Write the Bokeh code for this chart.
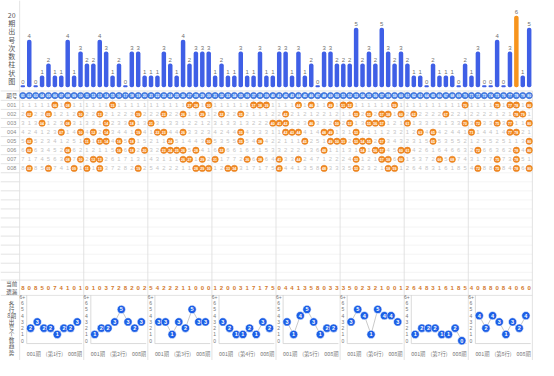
import numpy as np
from bokeh.plotting import figure
from bokeh.models import Range1d, ColumnDataSource
from bokeh.core.properties import value
from bokeh.embed import file_html
from bokeh.resources import INLINE

# ---------------- data ----------------
numbers = list(range(1, 81))
bar_counts = [
    0, 4, 0, 1, 2, 1, 1, 4, 1, 3,
    2, 2, 4, 3, 1, 2, 0, 3, 3, 1,
    1, 1, 3, 2, 1, 4, 2, 3, 3, 3,
    1, 2, 1, 1, 3, 1, 1, 3, 1, 1,
    3, 3, 1, 3, 1, 2, 0, 3, 3, 2,
    2, 2, 5, 2, 3, 2, 5, 3, 2, 3,
    2, 1, 1, 0, 2, 1, 1, 1, 0, 2,
    1, 3, 0, 0, 4, 0, 3, 6, 1, 5,
]
period_codes = ["001", "002", "003", "004", "005", "006", "007", "008"]
draw_001 = [6, 8, 15, 27, 28, 30, 37, 38, 39, 44, 46, 49, 51, 52, 59, 70, 75, 77, 78, 80]
draw_002 = [2, 5, 10, 13, 19, 23, 26, 29, 32, 35, 42, 53, 55, 57, 58, 60, 62, 67, 78, 79]
draw_003 = [4, 8, 14, 18, 21, 40, 41, 42, 46, 50, 52, 55, 56, 57, 61, 70, 72, 75, 77, 80]
draw_004 = [7, 10, 12, 14, 19, 22, 23, 26, 35, 42, 43, 44, 48, 49, 53, 63, 65, 71, 77, 78]
draw_005 = [2, 11, 13, 14, 16, 18, 24, 30, 35, 38, 45, 49, 50, 51, 53, 54, 55, 57, 65, 80]
draw_006 = [2, 8, 16, 18, 20, 23, 24, 25, 26, 28, 32, 48, 54, 56, 57, 60, 61, 72, 78, 80]
draw_007 = [8, 10, 12, 13, 26, 27, 29, 31, 36, 38, 41, 44, 53, 57, 58, 60, 66, 68, 75, 78]
draw_008 = [2, 5, 9, 11, 13, 19, 28, 29, 30, 33, 34, 41, 48, 53, 58, 59, 72, 75, 78, 80]
draws = [draw_001, draw_002, draw_003, draw_004, draw_005, draw_006, draw_007, draw_008]

trend_row1 = [2, 3, 2, 2, 1, 2, 2, 3]
trend_row2 = [1, 2, 2, 3, 5, 3, 2, 3]
trend_row3 = [3, 3, 1, 3, 2, 5, 3, 3]
trend_row4 = [3, 2, 1, 1, 2, 1, 3, 2]
trend_row5 = [3, 1, 4, 5, 3, 1, 2, 2]
trend_row6 = [3, 5, 4, 1, 5, 4, 4, 3]
trend_row7 = [1, 2, 2, 2, 1, 1, 2, 0]
trend_row8 = [4, 2, 4, 3, 1, 3, 2, 4]
trends = [trend_row1, trend_row2, trend_row3, trend_row4,
          trend_row5, trend_row6, trend_row7, trend_row8]
trend_periods = [1, 2, 3, 4, 5, 6, 7, 8]
trend_tick_values = [0, 1, 2, 3, 4, 5, 6, 7]
trend_tick_labels = ["0", "1", "2", "3", "4", "5", "6", "6+"]

title_chars = ["20", "期", "出", "号", "次", "数", "柱", "状", "图"]
trend_chars = ["各", "行", "8期", "出", "号", "个", "数", "趋", "势"]

# ---------------- layout constants (reference pixel space) ----------------
REF_W, REF_H = 554, 376
COL_X0, COL_W = 16.4, 6.6            # column n centre = COL_X0 + COL_W * n
def u(px):
    return (px - COL_X0) / COL_W

BAR_BASE, BAR_UNIT = 90.7, 12.45
HDR_Y = 99.3
ROW_Y0, ROW_H, N_ROWS = 109.2, 9.45, 19
GRID_TOP = 104.3
OMIT_Y = 300.0
CNT_BASE, CNT_UNIT = 355.3, 6.53
TR_X0, TR_DX = 31.0, 6.86

NUM_FONT = value("Liberation Sans")
CJK_FONT = value("Noto Sans CJK SC")

BLUE = "#3f5fe6"
ORANGE = "#f7941d"
LINE = "#dcdcdc"

p = figure(width=538, height=360, x_range=Range1d(u(0), u(REF_W)),
           y_range=Range1d(REF_H, 0), output_backend="svg",
           toolbar_location=None, min_border=0,
           x_axis_type=None, y_axis_type=None)
p.outline_line_color = None
p.background_fill_color = "white"
p.border_fill_color = "white"

p.extra_y_ranges = {
    "bar": Range1d((BAR_BASE - REF_H) / BAR_UNIT, BAR_BASE / BAR_UNIT),
    "cnt": Range1d((CNT_BASE - REF_H) / CNT_UNIT, CNT_BASE / CNT_UNIT),
}
p.extra_x_ranges = {
    f"g{g}": Range1d(1 + (0 - TR_X0 - 66 * g) / TR_DX, 1 + (REF_W - TR_X0 - 66 * g) / TR_DX)
    for g in range(8)
}

LAB_X = u(11.5)
SEP_R = 80.5

# ---------------- lines ----------------
hx0, hx1, hy = [], [], []
hcol = []
for yy in [94.5, GRID_TOP]:
    hx0.append(u(0)); hx1.append(SEP_R); hy.append(yy); hcol.append(LINE)
for k in range(1, N_ROWS + 1):
    yy = GRID_TOP + ROW_H * k
    hx0.append(u(0)); hx1.append(0.5); hy.append(yy); hcol.append(LINE)
    hx0.append(0.5); hx1.append(SEP_R); hy.append(yy); hcol.append("#f1f1f1")
for yy in [292.0, 308.0]:
    hx0.append(u(0)); hx1.append(SEP_R); hy.append(yy); hcol.append(LINE)
p.segment(x0=hx0, x1=hx1, y0=hy, y1=hy, line_color=hcol, line_width=0.8)

vx = [0.5] + [10 * g + 0.5 for g in range(1, 9)]
vy0 = [0.0] + [94.5] * 8
p.segment(x0=vx, x1=vx, y0=vy0, y1=[REF_H] * len(vx), line_color=LINE, line_width=0.8)

# ---------------- bars ----------------
vals = np.array(bar_counts)
mx = vals.max()
bar_src = ColumnDataSource(dict(
    x=numbers,
    top=np.maximum(vals, 0.17),
    c=[ORANGE if v == mx else BLUE for v in vals],
    lab=[str(v) for v in vals],
))
p.vbar(x="x", top="top", bottom=0, width=0.7, fill_color="c", line_color=None,
       y_range_name="bar", source=bar_src, border_radius=2)
p.text(x="x", y="top", text="lab", source=bar_src, y_range_name="bar",
       text_align="center", text_baseline="bottom", y_offset=-1.5,
       text_font=NUM_FONT, text_font_size=value("6px"), text_color="#707070")

# left title (vertical)
p.text(x=[LAB_X] * len(title_chars), y=[15 + 8.6 * i for i in range(len(title_chars))],
       text=title_chars, text_align="center", text_baseline="middle",
       text_font=CJK_FONT, text_font_size=value("7px"), text_color="#555555")

# ---------------- header row ----------------
p.text(x=[LAB_X], y=[HDR_Y], text=["期号"], text_align="center", text_baseline="middle",
       text_font=CJK_FONT, text_font_size=value("5.5px"), text_color="#555555")
p.scatter(x=numbers, y=[HDR_Y] * 80, size=6.3, fill_color="#4a86ea",
          line_color="#2458c8", line_width=0.6)
p.text(x=numbers, y=[HDR_Y] * 80, text=[f"{n:02d}" for n in numbers],
       text_align="center", text_baseline="middle", text_font=NUM_FONT,
       text_font_size=value("3.4px"), text_color="white", text_font_style="bold")

# ---------------- omission grid ----------------
last_hit = {n: 0 for n in numbers}
hit_x, hit_y, hit_t = [], [], []
mis_x, mis_y, mis_t = [], [], []
for r, draw in enumerate(draws, start=1):
    yy = ROW_Y0 + ROW_H * (r - 1)
    s = set(draw)
    for n in numbers:
        if n in s:
            hit_x.append(n); hit_y.append(yy); hit_t.append(f"{n:02d}")
            last_hit[n] = r
        else:
            mis_x.append(n); mis_y.append(yy); mis_t.append(str(r - last_hit[n]))
current_omission = [len(draws) - last_hit[n] for n in numbers]

p.text(x=[LAB_X] * len(period_codes), y=[ROW_Y0 + ROW_H * i for i in range(len(period_codes))],
       text=period_codes, text_align="center", text_baseline="middle",
       text_font=NUM_FONT, text_font_size=value("5.5px"), text_color="#888888")
p.text(x=mis_x, y=mis_y, text=mis_t, text_align="center", text_baseline="middle",
       text_font=NUM_FONT, text_font_size=value("5.8px"), text_color="#c4c4c4")
p.scatter(x=hit_x, y=hit_y, size=6.4, fill_color="#f28a22", line_color="#e07412",
          line_width=0.5)
p.text(x=hit_x, y=hit_y, text=hit_t, text_align="center", text_baseline="middle",
       text_font=NUM_FONT, text_font_size=value("3.6px"), text_color="white",
       text_font_style="bold")

# ---------------- current omission ----------------
p.text(x=[LAB_X, LAB_X], y=[OMIT_Y - 4, OMIT_Y + 4], text=["当前", "遗漏"],
       text_align="center", text_baseline="middle", text_font=CJK_FONT,
       text_font_size=value("5.5px"), text_color="#555555")
p.text(x=numbers, y=[OMIT_Y] * 80, text=[str(v) for v in current_omission],
       text_align="center", text_baseline="middle", text_font=NUM_FONT,
       text_font_size=value("6px"), text_color="#d2782a", text_font_style="bold")

# ---------------- row trend mini charts ----------------
p.text(x=[LAB_X] * len(trend_chars), y=[316.5 + 6.4 * i for i in range(len(trend_chars))],
       text=trend_chars, text_align="center", text_baseline="middle",
       text_font=CJK_FONT, text_font_size=value("5.6px"), text_color="#555555")

AX_P = 1 + (27 - TR_X0) / TR_DX
END_P = 1 + (84 - TR_X0) / TR_DX
TICK_P = 1 + (22.5 - TR_X0) / TR_DX
XLAB_V = (CNT_BASE - 369) / CNT_UNIT
BASE_V = (CNT_BASE - 358.3) / CNT_UNIT
for g in range(8):
    rn = f"g{g}"
    p.segment(x0=[AX_P, AX_P], x1=[AX_P, END_P], y0=[BASE_V, BASE_V], y1=[7.3, BASE_V],
              line_color="#d0d0d0", line_width=0.8, x_range_name=rn, y_range_name="cnt")
    p.text(x=[TICK_P] * len(trend_tick_values), y=trend_tick_values, text=trend_tick_labels,
           text_align="center", text_baseline="middle", text_font=NUM_FONT,
           text_font_size=value("5px"), text_color="#777777",
           x_range_name=rn, y_range_name="cnt")
    p.text(x=[AX_P, (AX_P + END_P) / 2, END_P], y=[XLAB_V] * 3,
           text=[f"{period_codes[0]}期", f"(第{g + 1}行)", f"{period_codes[-1]}期"],
           text_align=["left", "center", "right"], text_baseline="middle",
           text_font=CJK_FONT, text_font_size=value("5.3px"), text_color="#777777",
           x_range_name=rn, y_range_name="cnt")
    p.line(x=trend_periods, y=trends[g], line_color="#bbbbbb", line_width=0.8,
           x_range_name=rn, y_range_name="cnt")
    p.scatter(x=trend_periods, y=trends[g], size=8.4, fill_color="#1d5fe6",
              line_color="white", line_width=0.6, x_range_name=rn, y_range_name="cnt")
    p.text(x=trend_periods, y=trends[g], text=[str(v) for v in trends[g]],
           text_align="center", text_baseline="middle", text_font=NUM_FONT,
           text_font_size=value("5.5px"), text_color="white", text_font_style="bold",
           x_range_name=rn, y_range_name="cnt")

open("out.html", "w").write(file_html(p, INLINE))
